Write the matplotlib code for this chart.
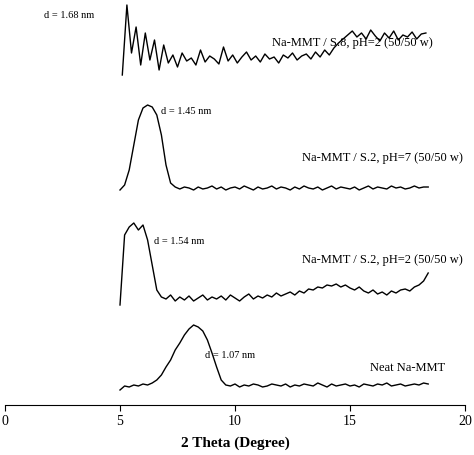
import numpy as np
import matplotlib.pyplot as plt

plt.rcParams['font.family'] = ['Liberation Serif', 'DejaVu Serif']

# 2-theta grid (degrees) shared by the lower three patterns
theta = np.arange(5.0, 18.41, 0.2)

# intensities (arbitrary units, already stacked)
neat = [15, 19, 18, 20, 19, 21, 20, 22,
        25, 30, 38, 45, 55, 62, 70, 76,
        80, 78, 74, 65, 52, 38, 25, 20,
        19, 21, 18, 20, 19, 21, 20, 18, 19, 21, 20, 19, 21, 18, 20, 19,
        21, 20, 19, 22, 20, 18, 21, 19, 20, 21, 19, 20, 18, 21, 20, 19,
        21, 20, 22, 19, 20, 21, 19, 20, 21, 20, 22, 21]
s2_ph2 = [100, 170, 178, 182, 175, 180, 165, 140, 115, 108,
          106, 110, 104, 108, 105, 109, 104, 107, 110, 105, 108, 106, 109,
          105, 110, 107, 104, 108, 111, 106, 109, 107, 110, 108, 112, 109,
          111, 113, 110, 114, 112, 116, 115, 118, 117, 120, 119, 121, 118,
          120, 117, 115, 118, 114, 112, 115, 111, 113, 110, 114, 112, 115,
          116, 114, 118, 120, 124, 132]
s2_ph7 = [215, 220, 235, 260, 285, 297, 300, 298, 290, 270, 240, 222, 218,
          216, 218, 217, 215, 218, 216, 217, 219, 216, 218, 215, 217, 218,
          216, 219, 217, 215, 218, 216, 217, 219, 216, 218, 217, 215, 218,
          216, 219, 217, 216, 218, 215, 217, 219, 216, 218, 217, 216, 218,
          215, 217, 219, 216, 218, 217, 216, 219, 217, 218, 216, 217, 219,
          217, 218, 218]
theta_s8 = np.arange(5.1, 18.41, 0.2)
s8_ph2 = [330, 400, 352, 378, 340, 372, 345, 365, 335, 360,
          342, 350, 338, 352, 344, 347, 340, 355, 343, 349,
          346, 341, 358, 344, 350, 342, 348, 353, 345, 349,
          343, 351, 346, 348, 342, 350, 347, 352, 345, 349,
          351, 346, 353, 348, 355, 350, 357, 362, 366, 370,
          374, 368, 372, 366, 375, 369, 364, 372, 367, 374,
          365, 370, 368, 373, 366, 371, 372]

fig = plt.figure(figsize=(4.74, 4.55), dpi=100)
ax = fig.add_axes([5 / 474, 50 / 455, 460 / 474, 405 / 455])

for xs, ys in [(theta, neat), (theta, s2_ph2), (theta, s2_ph7), (theta_s8[:len(s8_ph2)], s8_ph2)]:
    ax.plot(xs, ys, color='black', lw=1.0)

ax.text(1.7, 390, 'd = 1.68 nm', fontsize=7.5, va='center')
ax.text(18.6, 362, 'Na-MMT / S.8, pH=2 (50/50 w)', fontsize=9, va='center', ha='right')
ax.text(6.8, 293, 'd = 1.45 nm', fontsize=7.5, va='center')
ax.text(19.9, 247, 'Na-MMT / S.2, pH=7 (50/50 w)', fontsize=9, va='center', ha='right')
ax.text(6.5, 163, 'd = 1.54 nm', fontsize=7.5, va='center')
ax.text(19.9, 145, 'Na-MMT / S.2, pH=2 (50/50 w)', fontsize=9, va='center', ha='right')
ax.text(8.7, 50, 'd = 1.07 nm', fontsize=7.5, va='center')
ax.text(17.5, 37, 'Neat Na-MMT', fontsize=9, va='center', ha='center')

ax.set_xlim(0, 20)
ax.set_ylim(0, 405)
ax.set_xticks([0, 5, 10, 15, 20])
ax.set_yticks([])
for s in ['left', 'right', 'top']:
    ax.spines[s].set_visible(False)
ax.tick_params(axis='x', direction='out', length=4, labelsize=10)
ax.set_xlabel('2 Theta (Degree)', fontsize=11, fontweight='bold', labelpad=6)

fig.savefig('out.png', dpi=100)
